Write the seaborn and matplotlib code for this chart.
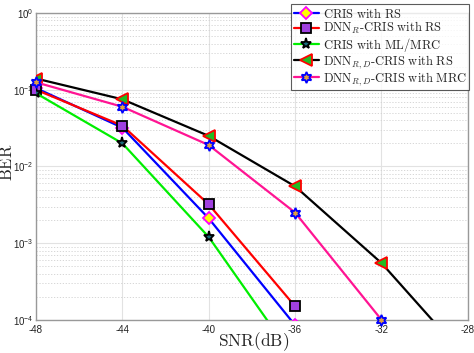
import matplotlib
matplotlib.use("Agg")
import matplotlib.pyplot as plt
import seaborn as sns
import numpy as np
import pandas as pd

snr = [-48, -44, -40, -36, -32, -28]
cris_rs = [0.105, 0.032, 0.0021, 8.5e-5]
dnn_r_rs = [0.10, 0.034, 0.0032, 1.5e-4]
cris_ml = [0.09, 0.020, 0.0012, 3e-5]
dnn_rd_rs = [0.14, 0.075, 0.025, 0.0055, 5.5e-4, 3e-5]
dnn_rd_mrc = [0.125, 0.060, 0.019, 0.0025, 1.0e-4]

labels = [r'$\mathrm{CRIS\ with\ RS}$',
          r'$\mathrm{DNN}_{R}\mathrm{\text{-}CRIS\ with\ RS}$',
          r'$\mathrm{CRIS\ with\ ML/MRC}$',
          r'$\mathrm{DNN}_{R,D}\mathrm{\text{-}CRIS\ with\ RS}$',
          r'$\mathrm{DNN}_{R,D}\mathrm{\text{-}CRIS\ with\ MRC}$']
series = [cris_rs, dnn_r_rs, cris_ml, dnn_rd_rs, dnn_rd_mrc]

styles = [
    dict(color='#0000ff', marker='D', mfc='#ffff00', mec='#ff00ff', ms=6, clip=True),
    dict(color='#ff0000', marker='s', mfc='#a040e0', mec='#000000', ms=7, clip=False),
    dict(color='#00ee00', marker='*', mfc='#1a6b7a', mec='#000000', ms=8, clip=True),
    dict(color='#000000', marker='<', mfc='#22bb22', mec='#ff0000', ms=8, clip=True),
    dict(color='#ff1493', marker=(6, 1, 0), mfc='#e0a040', mec='#0000ff', ms=8, clip=False),
]

sns.set_style('whitegrid')
plt.rcParams['mathtext.fontset'] = 'cm'
plt.rcParams['font.family'] = ['Liberation Sans', 'DejaVu Sans']

fig = plt.figure(figsize=(4.74, 3.53), dpi=100)
ax = fig.add_axes([0.076, 0.094, 0.911, 0.869])

for vals, lab, st in zip(series, labels, styles):
    df = pd.DataFrame({'snr': snr[:len(vals)], 'ber': vals})
    sns.lineplot(data=df, x='snr', y='ber', ax=ax, color=st['color'], lw=1.6,
                 marker=st['marker'], markersize=st['ms'], markerfacecolor=st['mfc'],
                 markeredgecolor=st['mec'], markeredgewidth=1.3, label=lab,
                 clip_on=st['clip'], zorder=3)

ax.set_yscale('log')
ax.set_xlim(-48, -28)
ax.set_ylim(1e-4, 1)
ax.set_xticks([-48, -44, -40, -36, -32, -28])
ax.set_xticklabels(['-48', '-44', '-40', '-36', '-32', '-28'])
ax.tick_params(labelsize=7, colors='#222222', length=3, direction='in', pad=2)
ax.tick_params(axis='x', pad=4)
ax.grid(True, which='major', color='#e2e2e2', lw=0.8, ls='-')
ax.grid(True, which='minor', axis='y', color='#d0d0d0', lw=0.6, ls=(0, (1.5, 2)))
for s in ax.spines.values():
    s.set_color('#999999')
    s.set_linewidth(1.0)

ax.set_xlabel('')
ax.set_ylabel('')
fig.text(0.536, 0.032, r'$\mathrm{SNR(dB)}$', fontsize=12.5, ha='center', va='center')
fig.text(0.014, 0.541, r'$\mathrm{BER}$', fontsize=12, ha='center', va='center', rotation=90)

leg = ax.legend(loc='upper right', bbox_to_anchor=(0.995, 0.995), bbox_transform=fig.transFigure,
                fontsize=9, frameon=True, fancybox=False, edgecolor='#333333',
                borderpad=0.2, labelspacing=-0.05, handlelength=2.0, handletextpad=0.3,
                borderaxespad=0.2)
leg.get_frame().set_linewidth(0.8)

fig.savefig('out.png', dpi=100)
